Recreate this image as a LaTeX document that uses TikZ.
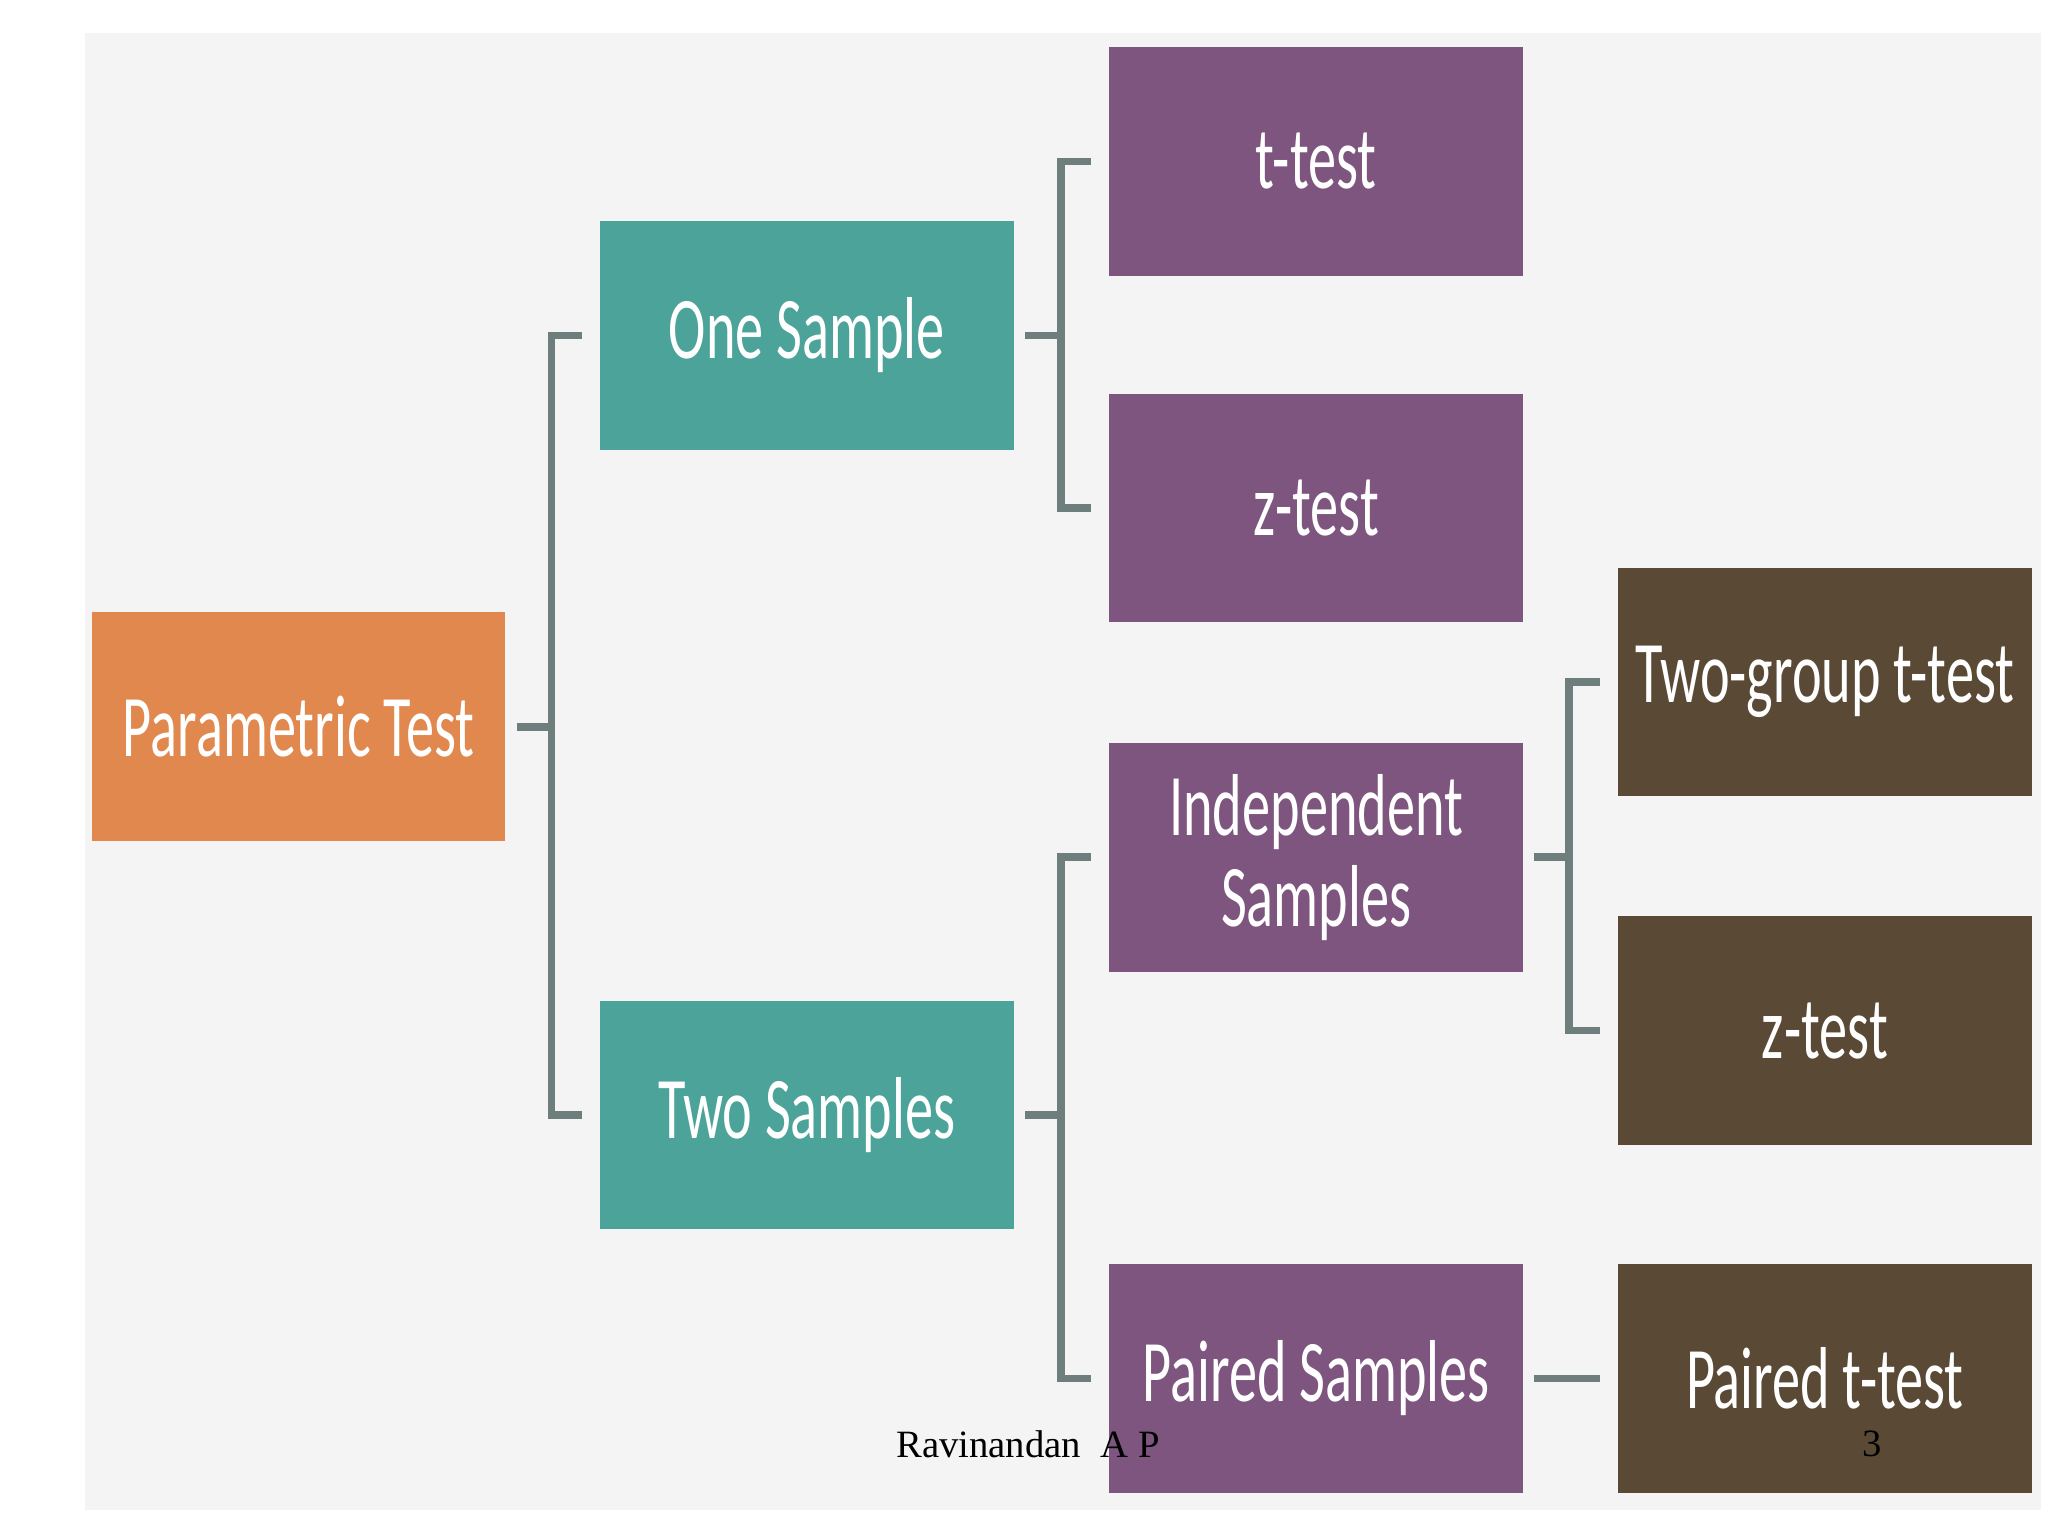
\documentclass[tikz,border=0pt]{standalone}
\usepackage{fontspec}
\setmainfont{Liberation Serif}
\newfontfamily\boxfont[FakeStretch=0.64]{Carlito}
\definecolor{bg}{HTML}{F4F4F4}
\definecolor{orng}{HTML}{E0884E}
\definecolor{teal}{HTML}{4BA39A}
\definecolor{purp}{HTML}{7E557F}
\definecolor{brwn}{HTML}{5A4A35}
\definecolor{lnc}{HTML}{6E7E7C}
\begin{document}
\begin{tikzpicture}[x=0.013128cm,y=-0.013128cm,
  bx/.style={minimum width=315*0.013128cm,minimum height=174*0.013128cm,inner sep=0pt,
    text=white,font=\boxfont\fontsize{25}{28}\selectfont,align=center},
  ln/.style={draw=lnc,line width=2.2pt}]
\useasboundingbox (0,0) rectangle (1560,1170);
\fill[bg] (65,25) rectangle (1555,1150);
\node[bx,fill=orng] (pt) at (227.5,553.5) {Parametric Test};
\node[bx,fill=teal] (one) at (614.5,255.5) {One Sample};
\node[bx,fill=teal] (two) at (614.5,849.5) {Two Samples};
\node[bx,fill=purp] (t1) at (1002.5,123) {t-test};
\node[bx,fill=purp] (z1) at (1002.5,387) {z-test};
\node[bx,fill=purp] (ind) at (1002.5,653) {Independent\\[-2pt]Samples};
\node[bx,fill=purp] (pair) at (1002.5,1050) {Paired Samples};
\node[bx,fill=brwn] (tg) at (1390,519.5) {Two-group t-test};
\node[bx,fill=brwn] (z2) at (1390,785) {z-test};
\node[bx,fill=brwn] (pt2) at (1390,1050) {Paired t-test};
\coordinate (j1) at (420,0); \coordinate (j2) at (808,0); \coordinate (j4) at (1195,0);
\draw[ln] ([xshift=3pt]pt.east) -- (pt.east -| j1) |- ([xshift=-5pt]one.west);
\draw[ln] (pt.east -| j1) |- ([xshift=-5pt]two.west);
\draw[ln] ([xshift=3pt]one.east) -- (one.east -| j2) |- ([xshift=-5pt]t1.west);
\draw[ln] (one.east -| j2) |- ([xshift=-5pt]z1.west);
\draw[ln] ([xshift=3pt]two.east) -- (two.east -| j2) |- ([xshift=-5pt]ind.west);
\draw[ln] (two.east -| j2) |- ([xshift=-5pt]pair.west);
\draw[ln] ([xshift=3pt]ind.east) -- (ind.east -| j4) |- ([xshift=-5pt]tg.west);
\draw[ln] (ind.east -| j4) |- ([xshift=-5pt]z2.west);
\draw[ln] ([xshift=3pt]pair.east) -- ([xshift=-5pt]pt2.west);
\node[font=\fontsize{11}{13}\selectfont] (ft) at (783,1100) {Ravinandan\ \ A P};
\node[font=\fontsize{11}{13}\selectfont] (pg) at (1426,1100) {3};
\end{tikzpicture}
\end{document}
